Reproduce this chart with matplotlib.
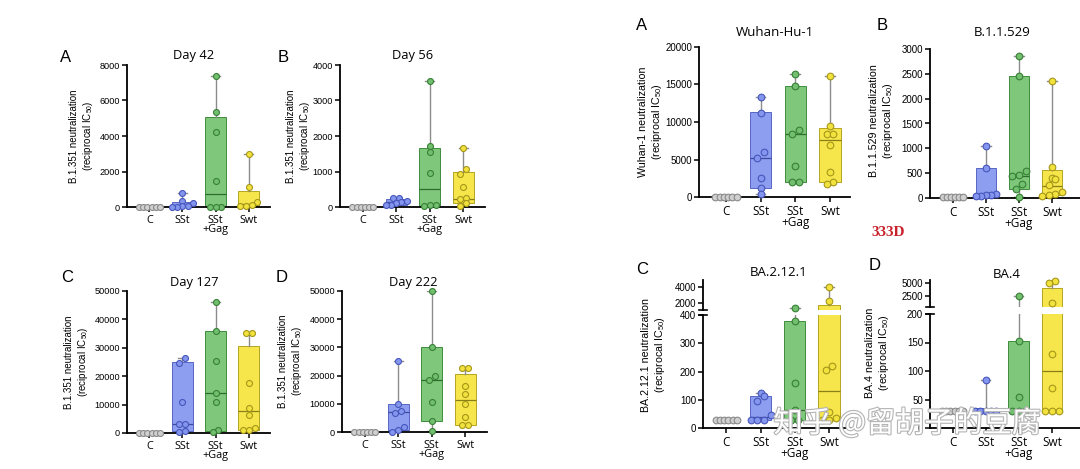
import matplotlib
matplotlib.use("Agg")
import matplotlib.pyplot as plt
import matplotlib.patheffects as pe
import numpy as np

plt.rcParams["font.family"] = ["Liberation Sans", "DejaVu Sans"]
plt.rcParams["mathtext.fontset"] = "custom"
plt.rcParams["mathtext.rm"] = "Liberation Sans"
plt.rcParams["mathtext.default"] = "rm"

# ---------------- data ----------------
categories = ["C", "SSt", "SSt\n+Gag", "Swt"]

# Left figure: B.1.351 neutralization
d42_C = [0, 0, 0, 0, 0, 0]
d42_SSt = [770, 340, 200, 60, 30, 10, 0]
d42_Gag = [7400, 5350, 4250, 1470, 0, 0, 0]
d42_Swt = [3010, 1130, 300, 120, 60, 40]
d42_q1 = [0, 0, 0, 30]
d42_med = [0, 50, 715, 150]
d42_q3 = [0, 270, 5060, 900]

d56_C = [0, 0, 0, 0, 0, 0]
d56_SSt = [250, 240, 180, 140, 110, 60, 50]
d56_Gag = [3540, 1730, 1560, 970, 60, 50, 30]
d56_Swt = [1650, 1060, 940, 550, 250, 230, 120, 30]
d56_q1 = [0, 60, 40, 110]
d56_med = [0, 130, 500, 220]
d56_q3 = [0, 230, 1675, 1000]

d127_C = [0, 0, 0, 0, 0, 0]
d127_SSt = [26500, 24800, 10800, 3100, 3000, 600, 500]
d127_Gag = [46200, 35800, 25300, 14000, 10800, 1000, 500]
d127_Swt = [35300, 35300, 17600, 8800, 6500, 1800, 1200, 1100]
d127_q1 = [0, 700, 600, 1200]
d127_med = [0, 3100, 14000, 7600]
d127_q3 = [0, 25000, 35800, 30500]

d222_C = [0, 0, 0, 0, 0, 0]
d222_SSt = [25300, 9900, 7400, 6800, 1700, 600, 100]
d222_Gag = [50000, 30000, 19800, 18600, 10600, 3900, 500]
d222_Swt = [22800, 22700, 16300, 13400, 9800, 5400, 2400, 2400]
d222_q1 = [0, 600, 3900, 2400]
d222_med = [0, 7000, 18600, 11500]
d222_q3 = [0, 9800, 30000, 20600]

# Right figure
wuh_C = [0, 0, 0, 0, 0, 0]
wuh_SSt = [13300, 11200, 6000, 5200, 2500, 1250, 350]
wuh_Gag = [16400, 14750, 8900, 8450, 4100, 2000, 2000]
wuh_Swt = [16100, 9400, 8400, 8400, 6900, 3400, 2000, 1800]
wuh_q1 = [0, 1250, 2000, 2000]
wuh_med = [0, 5200, 8450, 7600]
wuh_q3 = [0, 11300, 14750, 9200]

omi_C = [20, 20, 20, 20, 20, 20]
omi_SSt = [1050, 600, 80, 70, 60, 50, 40]
omi_Gag = [2860, 2450, 535, 455, 440, 280, 180, 30]
omi_Swt = [2350, 615, 400, 385, 260, 120, 80, 60, 50]
omi_q1 = [20, 35, 180, 70]
omi_med = [20, 60, 440, 250]
omi_q3 = [20, 600, 2450, 560]

ba212_C = [30, 30, 30, 30, 30, 30]
ba212_SSt = [125, 112, 95, 45, 30, 30, 30]
ba212_Gag = [1300, 380, 160, 62, 30, 30]
ba212_Swt = [4000, 2200, 220, 205, 55, 35, 30, 30]
ba212_q1 = [30, 30, 30, 30]
ba212_med = [30, 40, 62, 130]
ba212_q3 = [30, 112, 380, 1700]

ba4_C = [30, 30, 30, 30, 30, 30]
ba4_SSt = [85, 30, 30, 30, 30, 30]
ba4_Gag = [2500, 153, 55, 30, 30, 30]
ba4_Swt = [5500, 5100, 1100, 130, 70, 30, 30, 30]
ba4_q1 = [30, 30, 30, 30]
ba4_med = [30, 30, 30, 100]
ba4_q3 = [30, 35, 153, 4000]

# ---------------- style ----------------
FACE = ["#d4d4d4", "#8d9ef0", "#7ec77b", "#f6e64c"]
EDGE = ["#8f8f8f", "#5766c4", "#3f8d3d", "#b3a421"]
DOTF = ["#d0d0d0", "#8495ee", "#72c06f", "#f2e23e"]
DOTE = ["#8a8a8a", "#4756bb", "#378035", "#a6971a"]
MEDC = ["#8f8f8f", "#3d4aa0", "#2f6d2d", "#8a7e16"]
WHIS = "#8c8c8c"

W, H = 1080, 469
fig = plt.figure(figsize=(W / 100, H / 100), dpi=100)


def add_ax(x0, y0, x1, y1):
    return fig.add_axes([x0 / W, 1 - y1 / H, (x1 - x0) / W, (y1 - y0) / H])


def seg_for(segs, v):
    for ax, (lo, hi) in segs:
        if lo <= v <= hi:
            return ax
    return segs[0][0]


def swarm(segs, vals, dpx):
    ax0 = segs[0][0]
    xpx = ax0.transData.transform((1, 0))[0] - ax0.transData.transform((0, 0))[0]
    ypx = np.array([seg_for(segs, v).transData.transform((0, v))[1] for v in vals])
    order = np.argsort(ypx)
    offs = np.zeros(len(vals))
    rows, cur = [], [order[0]]
    for k in order[1:]:
        if ypx[k] - ypx[cur[0]] < dpx:
            cur.append(k)
        else:
            rows.append(cur)
            cur = [k]
    rows.append(cur)
    maxw = 0.62
    for r in rows:
        n = len(r)
        if n == 1:
            continue
        sp = dpx / xpx
        if sp * (n - 1) > maxw:
            sp = maxw / (n - 1)
        for j, k in enumerate(r):
            offs[k] = (j - (n - 1) / 2) * sp
    return offs


def panel(segs, groups, q1, med, q3, yticks, fs_tick, fs_cat, ms, xlim):
    for (ax, (lo, hi)), yt in zip(segs, yticks):
        ax.set_xlim(*xlim)
        ax.set_ylim(lo, hi)
        ax.set_yticks(yt)
        ax.tick_params(axis="y", labelsize=fs_tick, length=3.5, width=1.1, pad=1.5)
        for s in ("top", "right"):
            ax.spines[s].set_visible(False)
        ax.spines["left"].set_linewidth(1.3)
        ax.spines["bottom"].set_linewidth(1.3)
        ax.patch.set_alpha(0)
    bottom_ax = segs[0][0]
    bottom_ax.set_xticks(range(4))
    bottom_ax.set_xticklabels(categories, fontfamily="Open Sans", fontsize=fs_cat, linespacing=0.85)
    bottom_ax.tick_params(axis="x", length=3.5, width=1.1, pad=2)
    for ax, _ in segs[1:]:
        ax.spines["bottom"].set_visible(False)
        ax.set_xticks([])
    stats = [dict(med=m, q1=a, q3=b, whislo=min(v), whishi=max(v))
             for v, a, m, b in zip(groups, q1, med, q3)]
    for ax, _ in segs:
        bp = ax.bxp(stats, positions=range(4), widths=0.62, patch_artist=True,
                    showfliers=False, manage_ticks=False, capwidths=0.28,
                    whiskerprops=dict(color=WHIS, lw=1.0),
                    capprops=dict(color=WHIS, lw=1.0),
                    medianprops=dict(lw=0.9))
        for i, b in enumerate(bp["boxes"]):
            b.set_facecolor(FACE[i])
            b.set_edgecolor(EDGE[i])
            b.set_linewidth(0.7)
        for i, m in enumerate(bp["medians"]):
            m.set_color(MEDC[i])
    dpx = ms * 100 / 72
    for i, vals in enumerate(groups):
        vals = np.array(vals, dtype=float)
        offs = swarm(segs, vals, dpx)
        for ax, (lo, hi) in segs:
            mk = (vals >= lo) & (vals <= hi)
            ax.scatter(i + offs[mk], vals[mk], s=ms ** 2, facecolor=DOTF[i],
                       edgecolor=DOTE[i], linewidth=0.8, zorder=5, clip_on=False)


def break_marks(lower, upper, px):
    for ax, y in ((lower, 1), (upper, 0)):
        w = px / (ax.get_position().width * W)
        ax.plot([-w, w], [y, y], transform=ax.transAxes, color="black",
                lw=1.2, clip_on=False)


def ftext(x, y, s, **kw):
    return fig.text(x / W, 1 - y / H, s, **kw)


XL_L = (-0.68, 3.65)
ylab_L = "B.1.351 neutralization\n(reciprocal IC$_{50}$)"
FT_L = 6.6

# ---- Left A: Day 42
ax = add_ax(127, 65, 270, 207)
panel([(ax, (0, 8000))], [d42_C, d42_SSt, d42_Gag, d42_Swt], d42_q1, d42_med, d42_q3,
      [[0, 2000, 4000, 6000, 8000]], FT_L, 7.8, 4.3, XL_L)
# ---- Left B: Day 56
ax = add_ax(340, 65, 485, 207)
panel([(ax, (0, 4000))], [d56_C, d56_SSt, d56_Gag, d56_Swt], d56_q1, d56_med, d56_q3,
      [[0, 1000, 2000, 3000, 4000]], FT_L, 7.8, 4.3, XL_L)
# ---- Left C: Day 127
ax = add_ax(127, 291, 270, 433)
panel([(ax, (0, 50000))], [d127_C, d127_SSt, d127_Gag, d127_Swt], d127_q1, d127_med, d127_q3,
      [[0, 10000, 20000, 30000, 40000, 50000]], FT_L, 7.8, 4.3, XL_L)
# ---- Left D: Day 222
ax = add_ax(342, 291, 487, 432)
panel([(ax, (0, 50000))], [d222_C, d222_SSt, d222_Gag, d222_Swt], d222_q1, d222_med, d222_q3,
      [[0, 10000, 20000, 30000, 40000, 50000]], FT_L, 7.8, 4.3, XL_L)

# ---- Right A: Wuhan-Hu-1
ax = add_ax(699, 47, 850, 197)
panel([(ax, (0, 20000))], [wuh_C, wuh_SSt, wuh_Gag, wuh_Swt], wuh_q1, wuh_med, wuh_q3,
      [[0, 5000, 10000, 15000, 20000]], 7, 8.5, 4.8, (-0.78, 3.58))
# ---- Right B: B.1.1.529
ax = add_ax(930, 49, 1080, 198)
panel([(ax, (0, 3000))], [omi_C, omi_SSt, omi_Gag, omi_Swt], omi_q1, omi_med, omi_q3,
      [[0, 500, 1000, 1500, 2000, 2500, 3000]], 7, 8.5, 4.8, (-0.7, 3.85))
# ---- Right C: BA.2.12.1 (broken axis)
lo = add_ax(703, 315, 853, 428)
up = add_ax(703, 280, 853, 310)
panel([(lo, (0, 400)), (up, (1100, 4930))],
      [ba212_C, ba212_SSt, ba212_Gag, ba212_Swt], ba212_q1, ba212_med, ba212_q3,
      [[0, 100, 200, 300, 400], [2000, 4000]], 7, 8.5, 4.8, (-0.68, 3.7))
break_marks(lo, up, 4)
# ---- Right D: BA.4 (broken axis)
lo = add_ax(930, 314, 1080, 428)
up = add_ax(930, 280, 1080, 307)
panel([(lo, (0, 200)), (up, (400, 5650))],
      [ba4_C, ba4_SSt, ba4_Gag, ba4_Swt], ba4_q1, ba4_med, ba4_q3,
      [[0, 50, 100, 150, 200], [2500, 5000]], 7, 8.5, 4.8, (-0.68, 3.85))
break_marks(lo, up, 4)

# ---------------- texts ----------------
tkw = dict(ha="center", va="center", fontfamily="Open Sans")
ftext(194, 55, "Day 42", fontsize=9.3, **tkw)
ftext(413, 55, "Day 56", fontsize=9.3, **tkw)
ftext(194, 282, "Day 127", fontsize=9.3, **tkw)
ftext(413, 282, "Day 222", fontsize=9.3, **tkw)
ftext(775, 32, "Wuhan-Hu-1", fontsize=9.5, **tkw)
ftext(1002, 32, "B.1.1.529", fontsize=9.5, **tkw)
ftext(779, 273, "BA.2.12.1", fontsize=9.5, **tkw)
ftext(1007, 275, "BA.4", fontsize=9.5, **tkw)

lkw = dict(ha="center", va="center", fontsize=12)
for x, y, s in [(66, 57, "A"), (283, 57, "B"), (67, 278, "C"), (282, 278, "D"),
                (642, 25, "A"), (882, 25, "B"), (642, 269, "C"), (875, 266, "D")]:
    ftext(x, y, s, **lkw)

ykw = dict(ha="center", va="center", rotation=90, multialignment="center", linespacing=1.15)
ftext(82, 136, ylab_L, fontsize=7.0, **ykw)
ftext(299, 136, ylab_L, fontsize=7.0, **ykw)
ftext(77, 362, ylab_L, fontsize=7.0, **ykw)
ftext(291, 361, ylab_L, fontsize=7.0, **ykw)
ftext(651, 122, "Wuhan-1 neutralization\n(reciprocal IC$_{50}$)", fontsize=7.7, **ykw)
ftext(882, 121, "B.1.1.529 neutralization\n(reciprocal IC$_{50}$)", fontsize=7.7, **ykw)
ftext(654, 355, "BA.2.12.1 neutralization\n(reciprocal IC$_{50}$)", fontsize=7.7, **ykw)
ftext(878, 353, "BA.4 neutralization\n(reciprocal IC$_{50}$)", fontsize=7.7, **ykw)

ftext(888, 232, "333D", ha="center", va="center", fontsize=11, fontweight="bold",
      fontfamily="Liberation Serif", color="#c8202a")

wm = ftext(907, 424, "知乎 @留胡子的豆腐", ha="center", va="center", fontsize=21,
           fontfamily=["Noto Sans CJK SC", "DejaVu Sans"], color="white", zorder=20)
wm.set_path_effects([pe.withStroke(linewidth=1.6, foreground="#b4b4b4")])

fig.savefig("out.png", dpi=100, facecolor="white")
